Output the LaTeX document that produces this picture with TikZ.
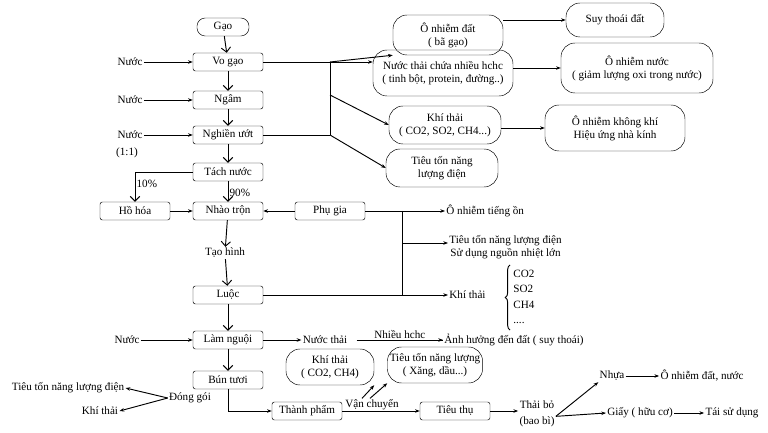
\documentclass[tikz,border=0pt]{standalone}
\usepackage{fontspec}
\setmainfont{Liberation Serif}
\usetikzlibrary{positioning, arrows.meta, decorations.pathreplacing}

\tikzset{
    step box/.style={draw, rounded corners=2pt, minimum width=70*0.03cm, minimum height=18*0.03cm, inner sep=1pt},
    soft box/.style={draw, rounded corners=12pt, align=center, inner sep=2pt},
    flow/.style={-{Straight Barb[length=4pt, width=8pt]}, thick},
    link/.style={-{Stealth[length=4pt]}, thick},
    plain/.style={thick},
    txt/.style={inner sep=1pt, align=center},
}

\begin{document}
\begin{tikzpicture}[x=0.03cm, y=-0.03cm, font=\fontsize{9.5}{11}\selectfont]
    \useasboundingbox (0,0) rectangle (768,433);

    % main column
    \node[step box, minimum width=52*0.03cm, rounded corners=7pt] (gao) at (223,27) {Gạo};
    \node[step box] (vogao) at (228,62) {Vo gạo};
    \node[step box] (ngam) at (228,100) {Ngâm};
    \node[step box] (nghien) at (228,135) {Nghiền ướt};
    \node[step box] (tach) at (228,172) {Tách nước};
    \node[step box] (nhao) at (228,211) {Nhào trộn};
    \node[step box] (hohoa) at (135,211) {Hồ hóa};
    \node[step box] (phugia) at (330,211) {Phụ gia};
    \node[txt] (taohinh) at (225,253) {Tạo hình};
    \node[step box] (luoc) at (228,295) {Luộc};
    \node[step box] (lamnguoi) at (228,340) {Làm nguội};
    \node[step box] (buntuoi) at (228,380) {Bún tươi};
    \node[txt] (donggoi) at (190,398) {Đóng gói};
    \coordinate (goc) at (228,411);
    \node[step box] (thanhpham) at (307,411) {Thành phẩm};
    \node[txt] (vanchuyen) at (372,405) {Vận chuyển};
    \node[step box] (tieuthu) at (455,411) {Tiêu thụ};
    \node[txt] (thaibo) at (537,414) {Thải bỏ\\[3pt](bao bì)};
    \node[txt] (nhua) at (612,376) {Nhựa};
    \node[txt] (onhiemdn) at (702,376) {Ô nhiễm đất, nước};
    \node[txt] (giay) at (640,413) {Giấy ( hữu cơ)};
    \node[txt] (taisd) at (732,413) {Tái sử dụng};

    % inputs
    \node[txt] (nuoc1) at (130,62) {Nước};
    \node[txt] (nuoc2) at (130,100) {Nước};
    \node[txt] (nuoc3) at (130,135) {Nước};
    \node[txt] at (127,153) {(1:1)};
    \node[txt] (nuoc4) at (127,340) {Nước};
    \node[txt] (tieutondg) at (68,388) {Tiêu tốn năng lượng điện};
    \node[txt] (khithaidg) at (100,411) {Khí thải};

    % top right impacts
    \node[soft box, minimum width=110*0.03cm, minimum height=40*0.03cm] (odat) at (448,35) {Ô nhiễm đất\\( bã gạo)};
    \node[soft box, minimum width=140*0.03cm, minimum height=46*0.03cm] (nuocthai) at (443,73) {Nước thải chứa nhiều hchc\\( tinh bột, protein, đường..)};
    \node[soft box, minimum width=112*0.03cm, minimum height=38*0.03cm] (khithai1) at (445,125) {Khí thải\\( CO2, SO2, CH4...)};
    \node[soft box, minimum width=112*0.03cm, minimum height=38*0.03cm] (tieuton1) at (442,168) {Tiêu tốn năng\\lượng điện};
    \node[soft box, minimum width=98*0.03cm, minimum height=34*0.03cm] (suythoai) at (615,20) {Suy thoái đất};
    \node[soft box, minimum width=152*0.03cm, minimum height=50*0.03cm] (onuoc) at (637,68) {Ô nhiễm nước\\( giảm lượng oxi trong nước)};
    \node[soft box, minimum width=140*0.03cm, minimum height=46*0.03cm] (okk) at (615,128) {Ô nhiễm không khí\\Hiệu ứng nhà kính};
    \coordinate (tr1) at (330,62);
    \coordinate (tr2) at (330,95);
    \coordinate (tr3) at (330,135);

    % middle right impacts
    \node[txt, anchor=west] (tiengon) at (445,211) {Ô nhiễm tiếng ồn};
    \node[txt, anchor=west] (tieuton2) at (448,247) {Tiêu tốn năng lượng điện\\Sử dụng nguồn nhiệt lớn};
    \node[txt, anchor=west] (khithai2) at (448,295) {Khí thải};
    \node[txt, anchor=west, align=left] (khilist) at (512,297) {CO2\\[2pt]SO2\\[2pt]CH4\\[2pt]....};
    \coordinate (tm1) at (402,211);
    \coordinate (tm2) at (402,243);
    \coordinate (tm3) at (402,295);

    % bottom impacts
    \node[txt] (nuocthai2) at (325,340) {Nước thải};
    \node[txt, anchor=west] (anhhuong) at (443,340) {Ảnh hưởng đến đất ( suy thoái)};
    \node[soft box, minimum width=88*0.03cm, minimum height=36*0.03cm] (khithai3) at (330,367) {Khí thải\\( CO2, CH4)};
    \node[soft box, minimum width=88*0.03cm, minimum height=36*0.03cm] (tieuton3) at (435,365) {Tiêu tốn năng lượng\\( Xăng, dầu...)};

    % main flow
    \draw[flow] (gao) -- (vogao);
    \draw[flow] (vogao) -- (ngam);
    \draw[flow] (ngam) -- (nghien);
    \draw[flow] (nghien) -- (tach);
    \draw[flow] (tach) -- node[right, txt, pos=0.55] {90\%} (nhao);
    \draw[flow] (tach.west) -| node[right, txt, pos=0.7] {10\%} (hohoa.north);
    \draw[link] (hohoa) -- (nhao);
    \draw[link] (phugia) -- (nhao);
    \draw[flow] (nhao) -- (taohinh);
    \draw[flow] (taohinh) -- (luoc);
    \draw[flow] (luoc) -- (lamnguoi);
    \draw[flow] (lamnguoi) -- (buntuoi);
    \draw[plain] (buntuoi) -- (goc);
    \draw[link] (goc) -- (thanhpham);
    \draw[link] (donggoi.west) -- (tieutondg.east);
    \draw[link] (donggoi.west) -- (khithaidg.east);
    \draw[plain] (thanhpham) -- (tieuthu.west -| vanchuyen.west) coordinate (vc);
    \draw[link] (vc) -- (tieuthu);
    \draw[link] (vanchuyen.north) ++(-10,0) -- (khithai3.south east);
    \draw[link] (vanchuyen.north) ++(-2,0) -- (tieuton3.south west);
    \draw[link] (tieuthu) -- (tieuthu -| thaibo.west);
    \draw[link] ([yshift=-2pt]thaibo.east) -- (nhua.south west);
    \draw[link] ([yshift=-2pt]thaibo.east) -- (giay.west);
    \draw[link] (nhua) -- (onhiemdn);
    \draw[link] (giay) -- (taisd);

    % inputs
    \draw[link] (nuoc1) -- (vogao);
    \draw[link] (nuoc2) -- (ngam);
    \draw[link] (nuoc3) -- (nghien);
    \draw[link] (nuoc4) -- (lamnguoi);

    % top right
    \draw[plain] (vogao) -- (tr1);
    \draw[plain] (nghien) -- (tr3);
    \draw[plain] (tr1) -- (tr3);
    \draw[link] (tr1) -- (odat.south west);
    \draw[link] (tr1) -- (nuocthai.west |- tr1);
    \draw[link] (tr2) -- (khithai1.west);
    \draw[link] (tr3) -- (tieuton1.west);
    \draw[link] (odat.east |- suythoai) -- (suythoai.west);
    \draw[link] (nuocthai.east |- onuoc) -- (onuoc.west);
    \draw[link] (khithai1.east |- okk) -- (okk.west);

    % middle right
    \draw[plain] (phugia) -- (tm1);
    \draw[plain] (luoc) -- (tm3);
    \draw[plain] (tm1) -- (tm3);
    \draw[link] (tm1) -- (tiengon);
    \draw[link] (tm2) -- (tm2 -| tieuton2.west);
    \draw[link] (tm3) -- (khithai2);
    \draw[decorate, decoration={brace, amplitude=4pt}, thick] (510,330) -- (510,265);

    % bottom
    \draw[link] (lamnguoi) -- (nuocthai2);
    \draw[plain] (nuocthai2.east) ++(8,0) -- node[above, txt] {Nhiều hchc} (anhhuong.west);
    \draw[link] ([xshift=-6pt]anhhuong.west) -- (anhhuong.west);
\end{tikzpicture}
\end{document}
